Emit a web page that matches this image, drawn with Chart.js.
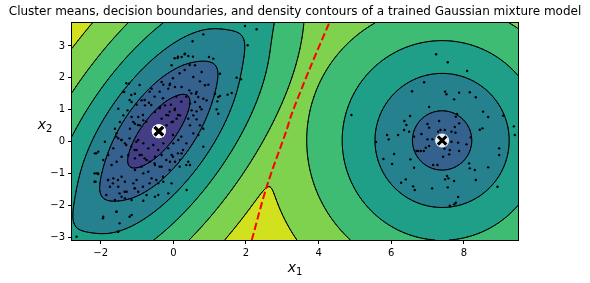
<!DOCTYPE html>
<html>
<head>
<meta charset="utf-8">
<script src="https://cdn.jsdelivr.net/npm/chart.js@4.4.1/dist/chart.umd.min.js"></script>
<style>
  html, body { margin: 0; padding: 0; background: #fff; }
</style>
</head>
<body>
<canvas id="gmmChart" width="590" height="283"></canvas>
<script>
'use strict';

// Gaussian mixture parameters (two components share the left blob, one on the right)
const weights = [0.09, 0.66, 0.25];
const meanX = [-0.40, -0.40, 7.40];
const meanY = [0.33, 0.33, 0.04];
const covXX = [0.978, 0.781, 0.75];
const covXY = [1.169, 0.727, 0.0];
const covYY = [1.602, 1.570, 0.97];

// contour levels of -log p(x) and the fill colour of each band
const levels = [1.0, 1.52, 2.31, 3.51, 5.34, 8.11, 12.33, 18.74, 28.48, 43.29, 65.79, 100.0];
const bandColors = ['#481769', '#433e85', '#34618d', '#26818e', '#1f9e88', '#3fbc73',
                    '#7ed24e', '#d1e11e', '#fde725', '#fde725', '#fde725'];

// axes
const xRange = [-2.79, 9.49];
const yRange = [-3.08, 3.72];
const xTicks = [-2, 0, 2, 4, 6, 8];
const yTicks = [-3, -2, -1, 0, 1, 2, 3];

// decision boundary (red dashed line)
const boundaryX = [2.16, 2.57, 3.12, 3.25, 3.76, 4.29];
const boundaryY = [-3.08, -1.41, 0.37, 0.84, 2.30, 3.72];

// training instances
const sampleX = [
  7.235, 7.557, 8.089, 6.905, 6.574, 7.483, 7.520, 7.869, 8.163, 8.328, 7.731, 7.043, 6.519, 6.363, 6.418,
  6.354, 6.997, 7.043, 7.318, 7.814, 7.777, 7.869, 7.750, 7.768, 7.658, 8.530, 8.668, 8.438, 8.512, 9.081,
  9.375, 9.403, 5.582, 5.886, 5.931, 6.189, 6.492, 6.831, 6.629, 6.997, 7.134, 6.694, 6.740, 6.813, 6.896,
  6.951, 7.043, 7.290, 7.355, 7.474, 7.658, 7.841, 7.869, 8.071, 8.190, 7.465, 7.612, 7.428, 7.153, 7.272,
  6.078, 5.785, 6.023, 6.528, 6.629, 7.594, 8.163, 8.301, 8.668, 8.971, 8.971, 8.144, 7.538, 7.575, 7.483,
  7.731, 8.328, 8.925, 6.271, 6.400, 6.602, 6.648, 7.125, 7.557, 7.841, 7.777, 7.731, 7.612, 4.904,
  1.973, 2.294, 0.825, 0.531, 2.046, 0.412, 0.981, 1.101, 1.284, 1.743, 1.863, 0.596, 0.779, 0.550, 0.733,
  0.871, 0.439, 0.641, 0.623, 0.963, 0.687, 0.825, 0.917, 1.147, 1.238, 1.284, 1.606, 1.495, 1.211, 0.458,
  0.596, 0.733, 0.504, 0.641, 0.779, 1.192, 1.238, 0.550, 0.412, 0.641, 0.733, 0.825, 0.458,
  0.228, 0.118, 0.320, -0.047, -0.323, -0.277, -0.093, -0.139, 0.045, 0.228, -0.598, -1.351, -1.223, -1.057,
  -1.149, -1.011, -0.874, -0.782, -0.672, -0.506, -0.369, -0.231, -0.066, 0.045, -1.516, -1.379, -1.259,
  -1.149, -1.103, -1.057, -0.966, -0.920, -0.828, -1.195, -1.608, -1.470, -0.323, -0.139, -0.047, 0.091,
  -0.185, 0.183,
  -1.562, -1.516, -1.425, -1.333, -1.884, -2.159, -2.067, -1.654, -1.792, -1.930, -1.425, -1.241, -1.562,
  -1.700, -2.113, -2.067, -2.141, -1.792, -1.654, -1.425, -1.333, -1.516, -1.746, -1.103, -1.011, -0.828,
  -0.690, -0.506, -0.323, -0.093, 0.045, 0.182, -0.047, 0.228, -0.598, -0.874, -1.057, -1.287, -1.057,
  -0.966, -1.608, -1.425, -1.333, -1.149, -0.828, -0.506, -0.277, -0.415, -0.047, -1.930, -1.562, -1.149,
  -1.516, -2.664, 0.366, -0.736, -0.415, -0.139,
  -0.966, -0.828, -0.690, -0.552, -0.415, -0.277, -0.139, -0.001, 0.137, -0.506, -0.323, -0.736, -0.874,
  -1.011, -1.057,
  0.550, 0.687, 0.825, 0.412, 0.458,
  -0.607, -0.377, -0.194, -0.102, 0.036, 0.128, -0.010, -0.836, -0.745, -0.974, 0.220, 0.357, 0.495,
  0.082, -0.285, -0.515, -0.377, -0.653, -0.102, -0.010, 0.174, 0.312, 0.449, 0.541, 0.128, 0.312,
  0.036, -1.296, -1.158, -1.387, -0.928, -1.204, -0.791,
  -1.571, -1.433, -1.296, -1.158, -1.066, -0.928, -0.790, -0.653, -0.515, -0.377, -0.194, -0.010,
  0.128, 0.266, 0.357, 0.220, -0.010, -1.020, -1.204, -2.122, -2.168, -2.076, -2.168, -1.800, -1.663,
  -1.525, -1.846, -1.479, -1.341, -1.066, -0.836, -0.653, -0.469, -0.285, -0.102, 0.174, 0.357,
  -1.571, -1.479, -1.938, -1.525, -1.204
];
const sampleY = [
  2.739, 2.488, 2.217, 1.861, 1.579, 1.569, 1.485, 1.537, 1.548, 1.391, 1.328, 1.088, 0.806, 0.649, 0.524,
  0.367, 0.555, 0.440, 0.649, 0.869, 0.785, 0.576, 0.461, 0.283, 0.315, 0.942, 0.774, 0.377, 0.419, 0.816,
  0.482, 0.210, -0.009, 0.210, 0.074, 0.210, 0.315, 0.242, 0.158, 0.074, 0.074, -0.291, -0.291, -0.291, -0.291,
  -0.187, -0.135, 0.315, 0.367, 0.367, 0.001, -0.030, -0.291, -0.082, 0.137, -0.218, -0.260, -0.469, -0.730, -0.730,
  -0.385, -0.542, -0.699, -0.552, -0.814, -0.396, -0.835, -0.887, -0.803, -0.208, -0.417, -0.678, -1.075, -1.148, -1.180,
  -1.232, -1.200, -1.409, -1.284, -1.180, -1.399, -1.514, -1.462, -1.430, -1.733, -1.911, -1.963, -2.005, 0.837,
  3.627, 3.522, 3.365, 3.146, 3.021, 2.686, 2.655, 2.603, 2.132, 2.007, 1.955, 2.394, 2.185, 2.028, 1.892,
  1.767, 1.610, 1.558, 1.505, 1.788, 1.401, 1.349, 1.296, 1.505, 1.401, 1.432, 1.526, 1.474, 1.265, 1.192,
  1.244, 1.087, 0.983, 0.952, 1.014, 1.014, 0.878, 0.826, 0.722, 0.701, 0.513, 0.408, 0.513,
  2.655, 2.623, 2.759, 2.394, 1.871, 1.788, 1.819, 1.662, 1.714, 1.714, 1.662, 1.558, 1.819, 1.505,
  1.244, 1.161, 1.296, 1.140, 1.223, 0.931, 1.087, 1.140, 1.161, 1.035, 1.035, 0.826, 0.983,
  0.774, 0.617, 0.565, 0.774, 0.513, 0.669, 0.408, 0.408, 0.617, 0.722, 0.826, 0.617, 0.722,
  0.513, 0.826,
  0.263, 0.106, 0.053, -0.051, 0.001, -0.364, -0.312, -0.208, -0.417, -0.573, -0.469, -0.417, -0.626,
  -0.730, -0.991, -1.012, -1.253, -1.200, -1.148, -1.096, -1.253, -1.409, -1.409, -1.305, -1.200, -0.991,
  -0.939, -0.730, -0.782, -0.626, -0.626, -0.573, -0.417, -0.364, -1.148, -0.782, -0.887, -1.566, -1.462,
  -1.566, -1.827, -1.723, -1.775, -1.827, -1.848, -1.723, -1.253, -1.305, -1.305, -2.350, -2.193, -2.298,
  -2.820, -2.977, -1.514, -1.671, -1.671, -1.618,
  0.053, -0.051, -0.208, -0.103, -0.260, -0.051, -0.208, -0.051, 0.053, -0.469, -0.417, -0.573, -0.417,
  -0.260, -0.521,
  0.262, 0.210, -0.155, -0.626, -0.730,
  1.151, 1.046, 0.837, 0.942, 0.994, 0.837, 0.628, 0.837, 0.628, 0.524, 1.255, 1.412, 1.516,
  1.412, 1.360, 1.412, 1.569, 1.569, 1.778, 1.987, 2.143, 2.248, 2.405, 2.666, 2.666, 2.739,
  2.614, 1.830, 1.464, 1.569, 1.778, 1.307, 1.307,
  0.158, 0.054, -0.103, -0.155, -0.260, -0.417, -0.521, -0.626, -0.678, -0.782, -0.573, -0.469,
  -0.364, -0.260, -0.051, 0.158, 0.210, 0.001, 0.106, -0.364, -0.991, -0.991, -1.253, -1.200, -1.305,
  -1.200, -1.671, -1.618, -1.566, -1.462, -1.409, -1.305, -1.200, -1.096, -0.887, -0.782, -0.730,
  -2.193, -2.559, -2.402, -2.820, -2.350
];

// -log of the mixture density at (x, y)
function negLogLik(x, y) {
  const terms = [];
  for (let k = 0; k < weights.length; k++) {
    const a = covXX[k], b = covXY[k], c = covYY[k];
    const det = a * c - b * b;
    const dx = x - meanX[k], dy = y - meanY[k];
    const maha = (c * dx * dx - 2 * b * dx * dy + a * dy * dy) / det;
    terms.push(Math.log(weights[k]) - Math.log(2 * Math.PI * Math.sqrt(det)) - maha / 2);
  }
  const top = Math.max(...terms);
  let s = 0;
  for (const t of terms) s += Math.exp(t - top);
  return -(top + Math.log(s));
}

function bandOf(z) {
  if (z < levels[0] || z >= levels[levels.length - 1]) return -1;
  for (let i = 0; i < levels.length - 1; i++) {
    if (z < levels[i + 1]) return i;
  }
  return -1;
}

function hexToRgb(hex) {
  const n = parseInt(hex.slice(1), 16);
  return [(n >> 16) & 255, (n >> 8) & 255, n & 255];
}

// filled contours + black contour lines, drawn under the datasets
const contourPlugin = {
  id: 'gmmContours',
  beforeDatasetsDraw(chart) {
    const ctx = chart.ctx, area = chart.chartArea;
    const xs = chart.scales.x, ys = chart.scales.y;
    const left = Math.round(area.left), top = Math.round(area.top);
    const w = Math.round(area.right) - left, h = Math.round(area.bottom) - top;
    const rgb = bandColors.map(hexToRgb);
    const img = ctx.createImageData(w, h);
    for (let j = 0; j < h; j++) {
      const yv = ys.getValueForPixel(top + j + 0.5);
      for (let i = 0; i < w; i++) {
        const band = bandOf(negLogLik(xs.getValueForPixel(left + i + 0.5), yv));
        if (band < 0) continue;
        const p = (j * w + i) * 4;
        img.data[p] = rgb[band][0];
        img.data[p + 1] = rgb[band][1];
        img.data[p + 2] = rgb[band][2];
        img.data[p + 3] = 255;
      }
    }
    ctx.putImageData(img, left, top);

    // marching squares for the contour lines
    const step = 2;
    const nx = Math.ceil(w / step) + 1, ny = Math.ceil(h / step) + 1;
    const px = i => Math.min(left + i * step, left + w);
    const py = j => Math.min(top + j * step, top + h);
    const grid = new Float64Array(nx * ny);
    for (let j = 0; j < ny; j++) {
      const yv = ys.getValueForPixel(py(j));
      for (let i = 0; i < nx; i++) grid[j * nx + i] = negLogLik(xs.getValueForPixel(px(i)), yv);
    }
    ctx.save();
    ctx.beginPath();
    ctx.rect(left, top, w, h);
    ctx.clip();
    ctx.strokeStyle = '#000';
    ctx.lineWidth = 1;
    ctx.lineCap = 'round';
    ctx.beginPath();
    for (const lv of levels) {
      for (let j = 0; j < ny - 1; j++) {
        for (let i = 0; i < nx - 1; i++) {
          const z00 = grid[j * nx + i], z10 = grid[j * nx + i + 1];
          const z01 = grid[(j + 1) * nx + i], z11 = grid[(j + 1) * nx + i + 1];
          const x0 = px(i), x1 = px(i + 1), y0 = py(j), y1 = py(j + 1);
          const pts = [];
          if ((z00 - lv) * (z10 - lv) < 0) pts.push([x0 + (lv - z00) / (z10 - z00) * (x1 - x0), y0]);
          if ((z10 - lv) * (z11 - lv) < 0) pts.push([x1, y0 + (lv - z10) / (z11 - z10) * (y1 - y0)]);
          if ((z01 - lv) * (z11 - lv) < 0) pts.push([x0 + (lv - z01) / (z11 - z01) * (x1 - x0), y1]);
          if ((z00 - lv) * (z01 - lv) < 0) pts.push([x0, y0 + (lv - z00) / (z01 - z00) * (y1 - y0)]);
          for (let k = 0; k + 1 < pts.length; k += 2) {
            ctx.moveTo(pts[k][0], pts[k][1]);
            ctx.lineTo(pts[k + 1][0], pts[k + 1][1]);
          }
        }
      }
    }
    ctx.stroke();
    ctx.restore();
  },
  afterDatasetsDraw(chart) {
    const ctx = chart.ctx, a = chart.chartArea;
    ctx.save();
    ctx.strokeStyle = '#000';
    ctx.lineWidth = 1;
    ctx.strokeRect(Math.round(a.left) - 0.5, Math.round(a.top) - 0.5,
                   Math.round(a.right - a.left) + 1, Math.round(a.bottom - a.top) + 1);
    ctx.restore();
  },
  afterDraw(chart) {
    const ctx = chart.ctx, a = chart.chartArea;
    ctx.save();
    ctx.fillStyle = '#000';
    drawSubLabel(ctx, 'x', '1', (a.left + a.right) / 2, 272);
    drawSubLabel(ctx, 'x', '2', 45, 129);
    ctx.restore();
  }
};

// italic symbol with a small upright subscript, centred on cx
function drawSubLabel(ctx, sym, sub, cx, baseline) {
  ctx.font = 'italic 14px "DejaVu Sans"';
  const w1 = ctx.measureText(sym).width;
  ctx.font = '10px "DejaVu Sans"';
  const w2 = ctx.measureText(sub).width;
  const x0 = cx - (w1 + w2) / 2;
  ctx.textAlign = 'left';
  ctx.textBaseline = 'alphabetic';
  ctx.font = 'italic 14px "DejaVu Sans"';
  ctx.fillText(sym, x0, baseline);
  ctx.font = '10px "DejaVu Sans"';
  ctx.fillText(sub, x0 + w1, baseline + 3);
}

const minusSign = v => String(v).replace('-', '\u2212');
const tickFont = { family: 'DejaVu Sans', size: 10 };

const samples = sampleX.map((x, i) => ({ x: x, y: sampleY[i] }));
const centroids = meanX.map((x, i) => ({ x: x, y: meanY[i] }));
const boundary = boundaryX.map((x, i) => ({ x: x, y: boundaryY[i] }));

new Chart(document.getElementById('gmmChart'), {
  type: 'scatter',
  data: {
    datasets: [
      { label: 'centroid cross', data: centroids, order: 0, pointStyle: 'crossRot', pointRadius: 6,
        pointBorderColor: '#000', pointBorderWidth: 3, pointBackgroundColor: '#000' },
      { label: 'centroid disc', data: centroids, order: 1, pointStyle: 'circle', pointRadius: 7,
        pointBackgroundColor: 'rgba(255,255,255,0.9)', pointBorderWidth: 0 },
      { label: 'instances', data: samples, order: 2, pointStyle: 'circle', pointRadius: 1.2,
        pointBackgroundColor: '#000', pointBorderWidth: 0 },
      { label: 'decision boundary', data: boundary, order: 3, showLine: true, pointRadius: 0,
        borderColor: '#ff0000', borderWidth: 2, borderDash: [7.4, 3.2], tension: 0.3 }
    ]
  },
  options: {
    responsive: false,
    animation: false,
    devicePixelRatio: 1,
    layout: { padding: 0 },
    events: [],
    plugins: {
      legend: { display: false },
      tooltip: { enabled: false },
      title: {
        display: true,
        text: 'Cluster means, decision boundaries, and density contours of a trained Gaussian mixture model',
        color: '#000',
        font: { family: 'DejaVu Sans', size: 12, weight: 'normal', lineHeight: 1.2 },
        padding: { top: 5, bottom: 3.6 }
      }
    },
    scales: {
      x: {
        type: 'linear', min: xRange[0], max: xRange[1],
        afterBuildTicks: s => { s.ticks = xTicks.map(v => ({ value: v })); },
        afterFit: s => { s.height = 43; },
        border: { display: false },
        grid: { drawOnChartArea: false, drawTicks: true, tickLength: 4, color: '#000' },
        ticks: { color: '#000', font: tickFont, padding: 3, maxRotation: 0, callback: minusSign }
      },
      y: {
        type: 'linear', min: yRange[0], max: yRange[1],
        afterBuildTicks: s => { s.ticks = yTicks.map(v => ({ value: v })); },
        afterFit: s => { s.width = 72; },
        border: { display: false },
        grid: { drawOnChartArea: false, drawTicks: true, tickLength: 4, color: '#000' },
        ticks: { color: '#000', font: tickFont, padding: 3, callback: minusSign }
      },
      yRight: {
        type: 'linear', position: 'right', display: true,
        afterFit: s => { s.width = 72; },
        border: { display: false },
        grid: { display: false },
        ticks: { display: false }
      }
    }
  },
  plugins: [contourPlugin]
});
</script>
</body>
</html>
